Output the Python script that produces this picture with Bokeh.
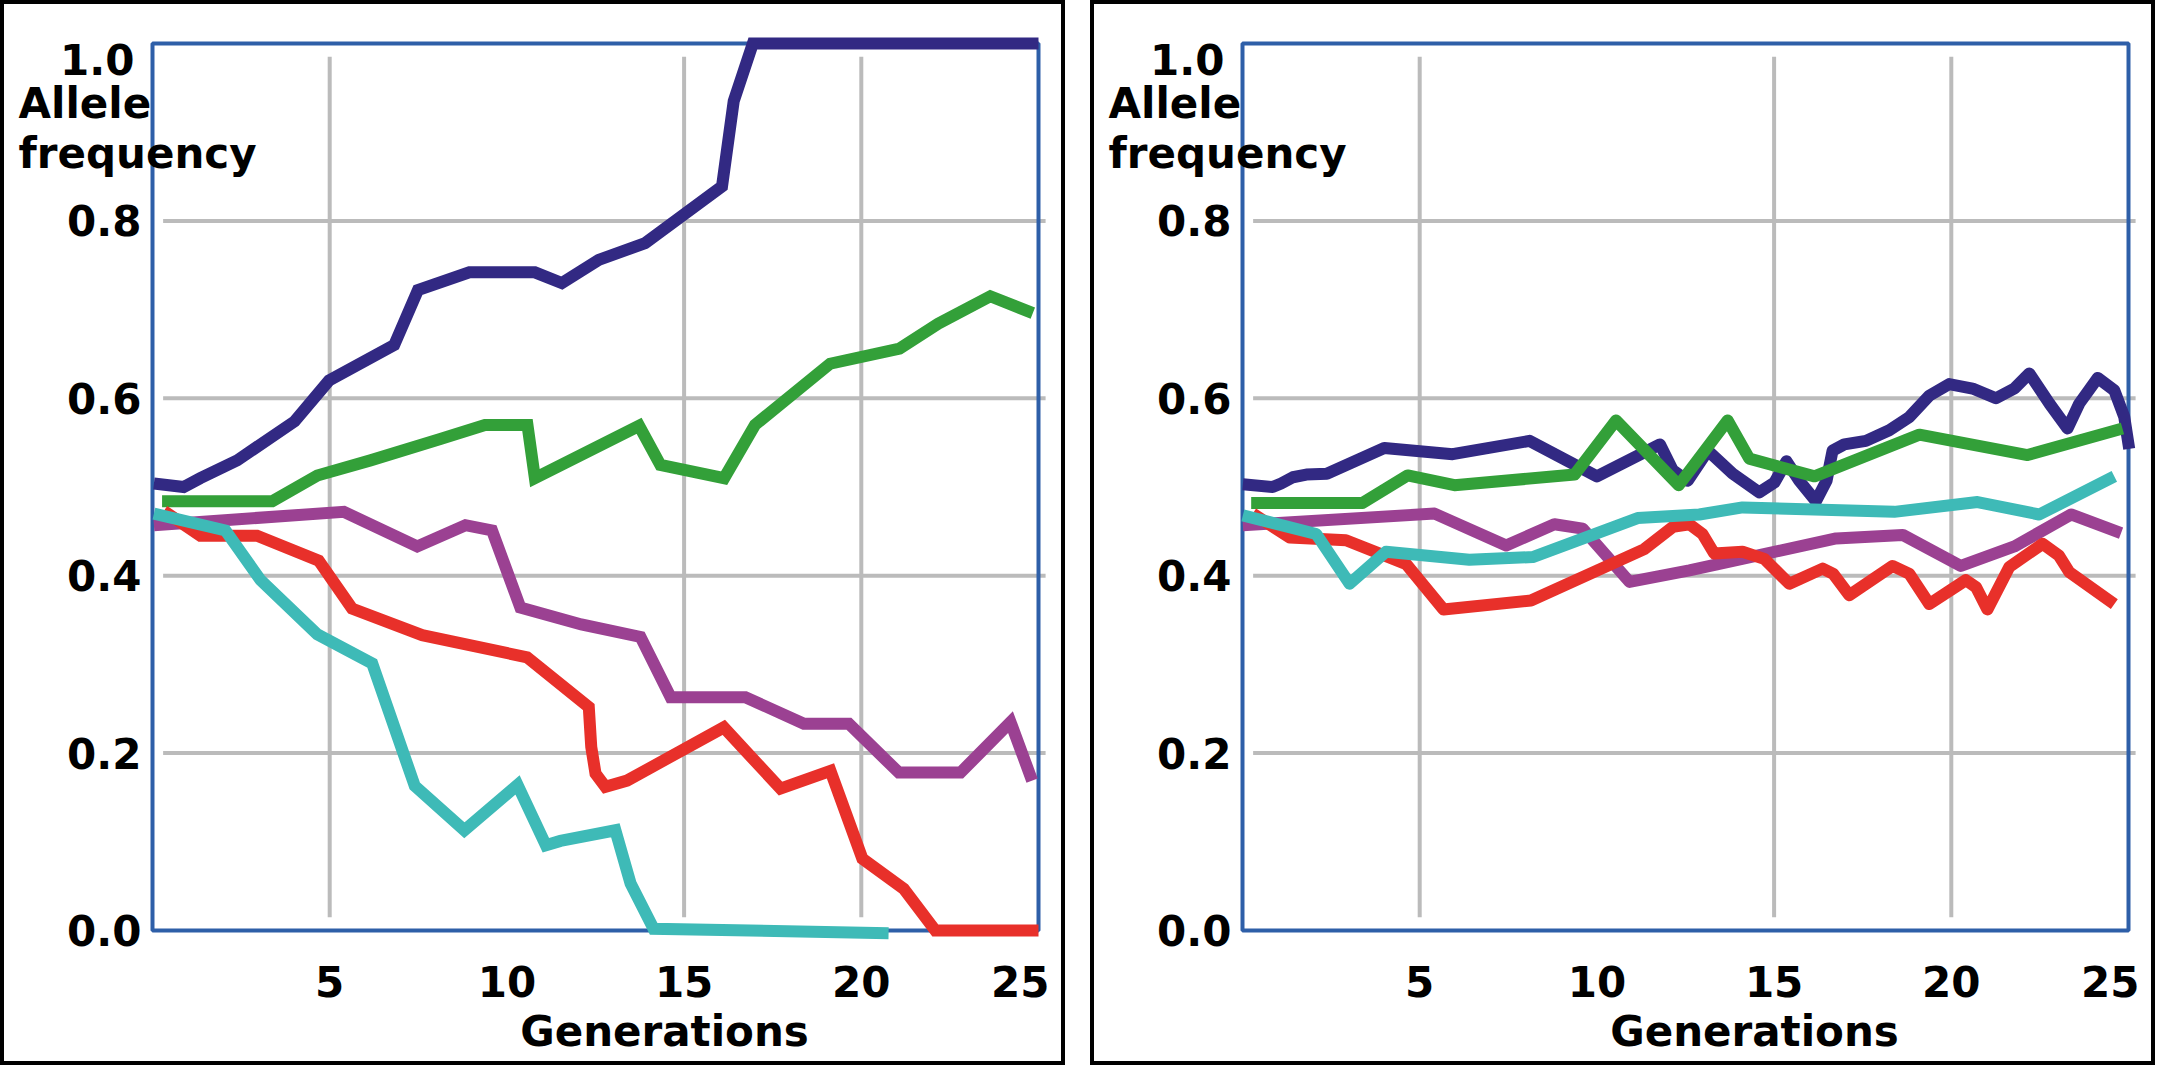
#!/usr/bin/env python3

from bokeh.embed import file_html
from bokeh.layouts import row
from bokeh.models import FixedTicker, Label, Range1d
from bokeh.plotting import figure
from bokeh.resources import INLINE

GEN_MAX = 25
FREQ_MAX = 1.0
X_TICKS = [5, 10, 15, 20, 25]
X_GRID = [5, 15, 20]
Y_TICKS = [0.0, 0.2, 0.4, 0.6, 0.8, 1.0]
Y_TICK_LABELS = ["0.0", "0.2", "0.4", "0.6", "0.8", "1.0"]
Y_GRID = [0.2, 0.4, 0.6, 0.8]

NAVY = "#322983"
GREEN = "#33A039"
PURPLE = "#9B4192"
RED = "#E8302A"
CYAN = "#3EBAB7"
FRAME_BLUE = "#2E5FA8"
GRID_GRAY = "#BBBBBB"

# left panel: small population
small_navy_gen = [0.04, 0.88, 1.35, 2.39, 4.01, 4.98, 6.82, 7.49, 8.94, 10.79, 11.55,
                  12.59, 13.90, 16.07, 16.40, 16.94, 25.0]
small_navy_freq = [0.504, 0.500, 0.510, 0.530, 0.574, 0.620, 0.660, 0.722, 0.742, 0.742,
                   0.730, 0.756, 0.775, 0.839, 0.935, 1.0, 1.0]

small_green_gen = [0.27, 3.38, 4.65, 6.15, 8.12, 9.38, 10.58, 10.79, 13.73, 14.33, 16.13,
                   17.0, 19.12, 21.08, 22.17, 23.64, 24.84]
small_green_freq = [0.484, 0.484, 0.513, 0.530, 0.554, 0.570, 0.570, 0.510, 0.569, 0.525,
                    0.510, 0.570, 0.639, 0.656, 0.684, 0.715, 0.696]

small_purple_gen = [0.04, 5.4, 7.47, 8.83, 9.58, 10.38, 12.1, 13.77, 14.62, 16.73, 18.38,
                    19.65, 21.06, 22.8, 24.21, 24.82]
small_purple_freq = [0.457, 0.472, 0.433, 0.457, 0.451, 0.364, 0.345, 0.331, 0.263, 0.263,
                     0.233, 0.233, 0.178, 0.178, 0.235, 0.169]

small_red_gen = [0.32, 1.35, 2.95, 4.69, 5.63, 7.61, 10.57, 12.31, 12.38, 12.50, 12.78,
                 13.39, 16.12, 17.72, 19.13, 20.03, 21.2, 22.09, 25.0]
small_red_freq = [0.473, 0.445, 0.445, 0.417, 0.363, 0.333, 0.308, 0.252, 0.207, 0.177,
                  0.162, 0.169, 0.229, 0.160, 0.180, 0.081, 0.047, 0.0, 0.0]

small_cyan_gen = [0.04, 2.06, 3.05, 4.65, 6.2, 7.4, 8.8, 10.3, 11.1, 11.51, 13.06, 13.49,
                  14.14, 20.77]
small_cyan_freq = [0.470, 0.451, 0.395, 0.334, 0.301, 0.163, 0.113, 0.164, 0.096, 0.101,
                   0.113, 0.053, 0.002, -0.003]

# right panel: large population
large_navy_gen = [0.01, 0.85, 1.09, 1.42, 1.8, 2.38, 4.0, 5.93, 8.1, 10.0, 11.78, 12.14,
                  12.56, 13.13, 13.83, 14.58, 15.01, 15.35, 15.71, 16.18, 16.48, 16.65,
                  16.98, 17.59, 18.25, 18.82, 19.38, 19.94, 20.6, 21.26, 21.78, 22.2,
                  22.77, 23.28, 23.61, 24.13, 24.6, 24.88, 25.02]
large_navy_freq = [0.503, 0.500, 0.504, 0.511, 0.514, 0.515, 0.544, 0.537, 0.552, 0.512,
                   0.548, 0.519, 0.507, 0.541, 0.515, 0.494, 0.505, 0.529, 0.507, 0.484,
                   0.507, 0.541, 0.548, 0.552, 0.564, 0.579, 0.603, 0.616, 0.611, 0.600,
                   0.611, 0.628, 0.594, 0.566, 0.594, 0.623, 0.609, 0.579, 0.543]

large_green_gen = [0.245, 3.39, 4.66, 5.98, 9.37, 10.54, 12.31, 13.69, 14.30, 16.14, 19.10,
                   22.15, 24.83]
large_green_freq = [0.482, 0.482, 0.513, 0.502, 0.514, 0.575, 0.502, 0.575, 0.532, 0.512,
                    0.559, 0.536, 0.566]

large_purple_gen = [0.01, 5.42, 7.44, 8.80, 9.60, 10.92, 12.61, 16.75, 18.63, 20.27, 21.78,
                    23.38, 24.79]
large_purple_freq = [0.457, 0.470, 0.434, 0.458, 0.453, 0.393, 0.406, 0.442, 0.446, 0.411,
                     0.433, 0.469, 0.448]

large_red_gen = [0.29, 1.33, 2.92, 4.62, 5.67, 8.14, 11.34, 12.14, 12.61, 12.98, 13.31,
                 14.11, 14.72, 15.43, 16.37, 16.67, 17.12, 18.34, 18.82, 19.38, 20.41,
                 20.7, 21.02, 21.64, 22.58, 23.03, 23.33, 24.6]
large_red_freq = [0.470, 0.443, 0.440, 0.413, 0.362, 0.372, 0.430, 0.455, 0.458, 0.447,
                  0.425, 0.427, 0.419, 0.391, 0.408, 0.402, 0.378, 0.411, 0.402, 0.368,
                  0.395, 0.387, 0.362, 0.410, 0.436, 0.423, 0.404, 0.368]

large_cyan_gen = [0.01, 2.08, 3.02, 4.05, 6.40, 8.19, 11.15, 12.89, 14.11, 18.39, 20.74,
                  22.48, 24.6]
large_cyan_freq = [0.468, 0.447, 0.391, 0.427, 0.418, 0.421, 0.465, 0.469, 0.477, 0.472,
                   0.483, 0.469, 0.512]

# layout of one panel, in pixels
CANVAS_W = 1065
CANVAS_H = 1065
PX_PER_GEN = 35.44
PX_PER_FREQ = 887
X0_PX = 148  # canvas x of generation 0
Y1_PX = 39  # canvas y of frequency 1.0

FONT_KW = dict(
    text_font="DejaVu Sans",
    text_font_size="42px",
    text_font_style="bold",
    text_color="black",
)


def create_panel(lines, line_join):

    # the frame fills the whole canvas so that the free texts are not clipped
    p = figure(
        width=CANVAS_W,
        height=CANVAS_H,
        min_border=0,
        x_range=Range1d(-X0_PX / PX_PER_GEN, (CANVAS_W - X0_PX) / PX_PER_GEN),
        y_range=Range1d(FREQ_MAX - (CANVAS_H - Y1_PX) / PX_PER_FREQ,
                        FREQ_MAX + Y1_PX / PX_PER_FREQ),
        output_backend="svg",
        toolbar_location=None,
        outline_line_color=None,
        styles={"border": "4px solid black"},
    )
    p.title.visible = False
    p.grid.visible = False

    # axes sit on the plot box itself
    p.xaxis.fixed_location = 0
    p.yaxis.fixed_location = 0
    p.xaxis.ticker = FixedTicker(ticks=X_TICKS[:-1])
    p.yaxis.ticker = FixedTicker(ticks=Y_TICKS[:-1])
    p.yaxis.major_label_overrides = dict(zip(Y_TICKS, Y_TICK_LABELS))
    for ax in (p.xaxis, p.yaxis):
        ax.axis_line_color = None
        ax.major_tick_line_color = None
        ax.minor_tick_line_color = None
        ax.major_tick_out = 0
        ax.major_tick_in = 0
        ax.major_label_text_font = "DejaVu Sans"
        ax.major_label_text_font_size = "42px"
        ax.major_label_text_font_style = "bold"
        ax.major_label_text_color = "black"
    p.xaxis.major_label_standoff = 35
    p.yaxis.major_label_standoff = 11

    # grid lines stop a little short of the box, as in the original
    p.segment(x0=[0.3] * len(Y_GRID), x1=[GEN_MAX + 0.2] * len(Y_GRID), y0=Y_GRID, y1=Y_GRID,
              line_color=GRID_GRAY, line_width=4)
    p.segment(x0=X_GRID, x1=X_GRID, y0=[0.015] * len(X_GRID), y1=[0.985] * len(X_GRID),
              line_color=GRID_GRAY, line_width=4)

    # plot box
    p.quad(left=[0], right=[GEN_MAX], bottom=[0], top=[FREQ_MAX],
           fill_color=None, line_color=FRAME_BLUE, line_width=4)

    for gen, freq, color in lines:
        p.line(gen, freq, color=color, line_width=12, line_join=line_join, line_cap="butt")

    # end tick labels are pulled inside the box, as in the original
    p.add_layout(Label(x=X_TICKS[-1], y=0, x_offset=11, y_offset=-35, text=str(X_TICKS[-1]),
                       text_align="right", text_baseline="top", **FONT_KW))
    p.add_layout(Label(x=0, y=Y_TICKS[-1], x_offset=-18, y_offset=0, text=Y_TICK_LABELS[-1],
                       text_align="right", text_baseline="top", **FONT_KW))

    p.add_layout(Label(x=0, y=FREQ_MAX, x_offset=-134, y_offset=-60, text="Allele",
                       text_align="left", text_baseline="alphabetic", **FONT_KW))
    p.add_layout(Label(x=0, y=FREQ_MAX, x_offset=-134, y_offset=-110, text="frequency",
                       text_align="left", text_baseline="alphabetic", **FONT_KW))
    p.add_layout(Label(x=0, y=0, x_offset=512, y_offset=-101, text="Generations",
                       text_align="center", text_baseline="alphabetic", **FONT_KW))

    return p


p_small = create_panel([
    (small_navy_gen, small_navy_freq, NAVY),
    (small_green_gen, small_green_freq, GREEN),
    (small_purple_gen, small_purple_freq, PURPLE),
    (small_red_gen, small_red_freq, RED),
    (small_cyan_gen, small_cyan_freq, CYAN),
], "miter")
p_large = create_panel([
    (large_navy_gen, large_navy_freq, NAVY),
    (large_green_gen, large_green_freq, GREEN),
    (large_purple_gen, large_purple_freq, PURPLE),
    (large_red_gen, large_red_freq, RED),
    (large_cyan_gen, large_cyan_freq, CYAN),
], "round")

layout = row(p_small, p_large, spacing=25)

open("out.html", "w").write(file_html(layout, INLINE, title="Allele frequency"))
